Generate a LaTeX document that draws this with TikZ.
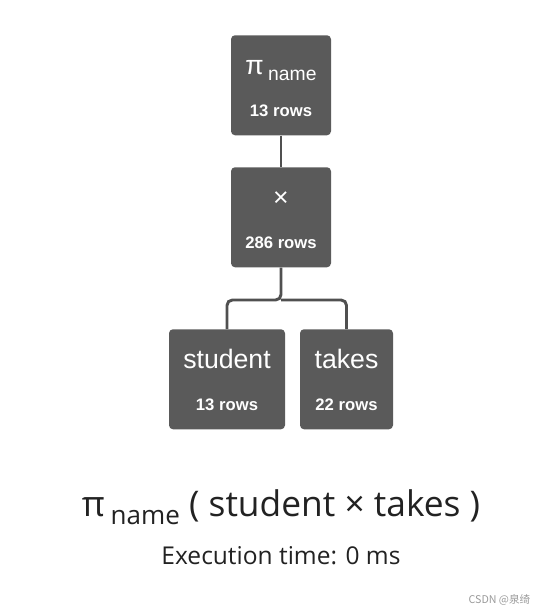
\documentclass[tikz,border=0pt]{standalone}
\usepackage{fontspec}
\setmainfont{Liberation Sans}
\newfontfamily\exprfont{Open Sans}
\newfontfamily\cjkfont{Noto Sans CJK SC}
\definecolor{boxgray}{HTML}{5A5A5A}
\definecolor{linegray}{HTML}{505050}
\definecolor{textdark}{HTML}{222222}
\definecolor{markgray}{HTML}{9A9A9A}

\begin{document}
\begin{tikzpicture}[x=0.75pt,y=-0.75pt,
  opbox/.style={rectangle,rounded corners=3pt,fill=boxgray,inner sep=0pt,minimum height=75pt},
  optitle/.style={text=white,inner sep=0pt,font=\fontsize{20}{22}\selectfont},
  rowcount/.style={text=white,inner sep=0pt,font=\bfseries\fontsize{12.5}{14}\selectfont},
  edge/.style={draw=linegray,line width=2.2pt}]
\useasboundingbox (0,0) rectangle (548,614);

% operator boxes: name/x/top/width/title/rows
\foreach \n/\x/\y/\w/\t/\r in {proj/281/35/100/{π\,\raisebox{-5pt}{\fontsize{14.5}{15}\selectfont name}}/13,
  cross/281/167/100/×/286, student/227/329/116/student/13, takes/346.5/329/93/takes/22}
{
  \node[opbox,minimum width=\w*0.75pt,anchor=north] (\n) at (\x,\y) {};
  \node[optitle,anchor=base] (\n-title) at ([yshift=-29.25pt]\n.north) {\t};
  \node[rowcount,anchor=base] (\n-rows) at ([yshift=-60.75pt]\n.north) {\r{} rows};
}

\coordinate (fork) at (281,300);
\draw[edge] (proj) -- (cross);
\draw[edge,rounded corners=4pt] (cross) -- (fork) -| (student);
\draw[edge,rounded corners=4pt] (fork) -| (takes);

\node[anchor=base,text=textdark,inner sep=0pt,font=\exprfont\fontsize{26.5}{30}\selectfont] (expr) at (281,516)
  {π\,\raisebox{-6pt}{\fontsize{19.5}{20}\selectfont name} ( student × takes )};
\node[anchor=base,text=textdark,inner sep=0pt,font=\exprfont\fontsize{18.4}{20}\selectfont] (exectime) at (281,564)
  {Execution time: 0 ms};
\node[anchor=base,text=markgray,inner sep=0pt,font=\cjkfont\fontsize{8}{9}\selectfont] (mark) at (499.5,603)
  {CSDN @泉绮};
\end{tikzpicture}
\end{document}
